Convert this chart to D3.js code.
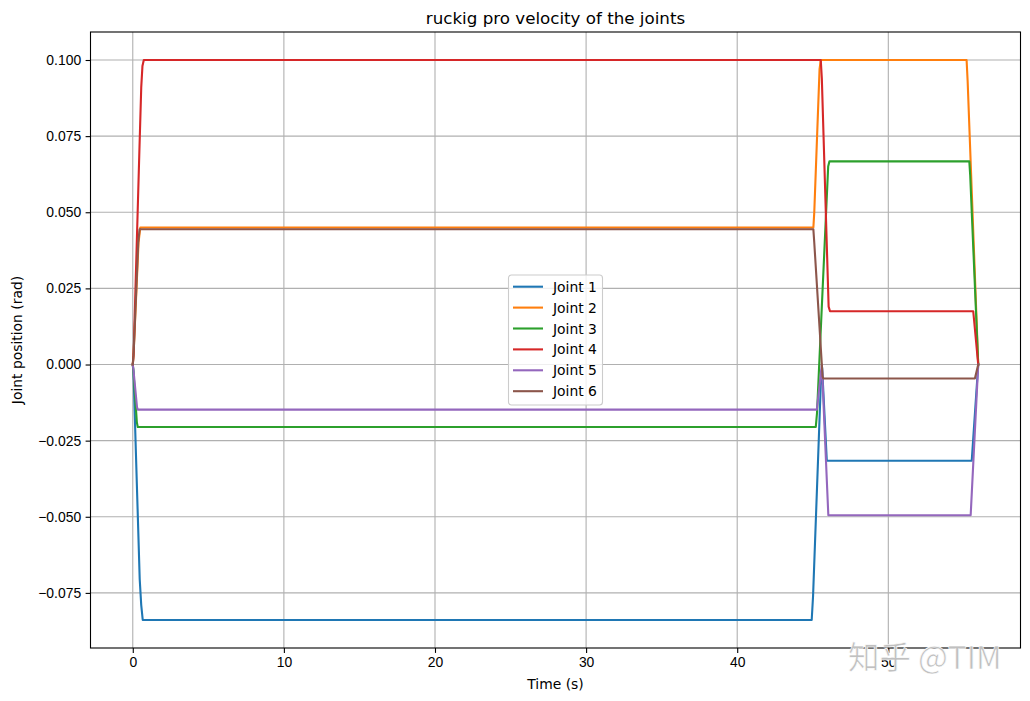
<!DOCTYPE html>
<html>
<head>
<meta charset="utf-8">
<script src="https://cdn.jsdelivr.net/npm/d3@7"></script>
<style>
  body { margin: 0; background: #fff; }
  svg { display: block; font-family: "DejaVu Sans", sans-serif; }
  .grid line { stroke: #b0b0b0; stroke-width: 1.1; }
  .axis path, .axis line { stroke: #000; stroke-width: 1.1; }
  .axis text { font-size: 13.9px; fill: #000; }
</style>
</head>
<body>
<svg width="1030" height="701"></svg>
<script>
var svg = d3.select("svg"),
    width = +svg.attr("width"),
    height = +svg.attr("height");

var margin = {left: 90.5, right: 9.5, top: 32, bottom: 53};

// [time (s), velocity (rad/s)]
var joint1 = [[0,0],[0.05,-0.003],[0.46,-0.0706],[0.56,-0.079],[0.66,-0.0839],
              [44.93,-0.0839],[45.02,-0.076],[45.55,-0.004],[45.62,-0.001],[45.93,-0.0316],
              [55.52,-0.0316],[55.95,0]];
var joint2 = [[0,0],[0.05,0.003],[0.38,0.04],[0.5,0.045],
              [45.04,0.045],[45.1,0.05],[45.45,0.097],[45.53,0.1],
              [55.18,0.1],[55.25,0.093],[55.95,0]];
var joint3 = [[0,0],[0.04,-0.002],[0.27,-0.019],[0.33,-0.0205],
              [45.2,-0.0205],[45.28,-0.016],[46.02,0.065],[46.1,0.0667],
              [55.36,0.0667],[55.42,0.062],[55.95,0]];
var joint4 = [[0,0],[0.06,0.004],[0.44,0.0706],[0.56,0.091],[0.64,0.098],[0.73,0.1],
              [45.53,0.1],[45.6,0.094],[46.05,0.019],[46.14,0.0175],
              [55.62,0.0175],[55.95,0]];
var joint5 = [[0,0],[0.04,-0.0015],[0.28,-0.014],[0.33,-0.0148],
              [45.27,-0.0148],[45.6,0],[46.03,-0.0495],
              [55.45,-0.0495],[55.95,0]];
var joint6 = [[0,0],[0.05,0.003],[0.36,0.04],[0.45,0.0444],
              [45.04,0.0444],[45.1,0.04],[45.65,-0.004],[45.7,-0.0046],
              [55.73,-0.0046],[55.95,0]];

var joints = [joint1, joint2, joint3, joint4, joint5, joint6];
var names = ["Joint 1", "Joint 2", "Joint 3", "Joint 4", "Joint 5", "Joint 6"];
var colors = ["#1f77b4", "#ff7f0e", "#2ca02c", "#d62728", "#9467bd", "#8c564b"];
var xTicks = [0, 10, 20, 30, 40, 50];
var yTicks = [-0.075, -0.05, -0.025, 0, 0.025, 0.05, 0.075, 0.1];

// matplotlib style 5% padding round the data
var all = d3.merge(joints);
var xe = d3.extent(all, d => d[0]),
    ye = d3.extent(all, d => d[1]);
var xp = (xe[1] - xe[0]) * 0.05,
    yp = (ye[1] - ye[0]) * 0.05;

var x = d3.scaleLinear()
    .domain([xe[0] - xp, xe[1] + xp])
    .range([margin.left, width - margin.right]);

var y = d3.scaleLinear()
    .domain([ye[0] - yp, ye[1] + yp])
    .range([height - margin.bottom, margin.top]);

var minus = s => s.replace("-", "\u2212");

// grid
svg.append("g").attr("class", "grid")
    .selectAll("line").data(xTicks).enter().append("line")
    .attr("x1", d => x(d)).attr("x2", d => x(d))
    .attr("y1", margin.top).attr("y2", height - margin.bottom);
svg.append("g").attr("class", "grid")
    .selectAll("line").data(yTicks).enter().append("line")
    .attr("y1", d => y(d)).attr("y2", d => y(d))
    .attr("x1", margin.left).attr("x2", width - margin.right);

// lines
var line = d3.line()
    .x(d => x(d[0]))
    .y(d => y(d[1]));

svg.append("g")
    .selectAll("path").data(joints).enter().append("path")
    .attr("d", line)
    .attr("fill", "none")
    .attr("stroke", (d, i) => colors[i])
    .attr("stroke-width", 2.1)
    .attr("stroke-linejoin", "round")
    .attr("stroke-linecap", "square");

// axes
svg.append("g").attr("class", "axis")
    .attr("transform", `translate(0,${height - margin.bottom})`)
    .call(d3.axisBottom(x).tickValues(xTicks).tickSize(4.9).tickPadding(4.5).tickFormat(d3.format("d")))
    .call(g => g.select(".domain").remove());
svg.append("g").attr("class", "axis")
    .attr("transform", `translate(${margin.left},0)`)
    .call(d3.axisLeft(y).tickValues(yTicks).tickSize(4.9).tickPadding(4.5).tickFormat(d => minus(d3.format(".3f")(d))))
    .call(g => g.select(".domain").remove());

// spines
svg.append("rect")
    .attr("x", margin.left).attr("y", margin.top)
    .attr("width", width - margin.left - margin.right)
    .attr("height", height - margin.top - margin.bottom)
    .attr("fill", "none").attr("stroke", "#000").attr("stroke-width", 1.1);

// titles
svg.append("text")
    .attr("x", (margin.left + width - margin.right) / 2).attr("y", 23.5)
    .attr("text-anchor", "middle").style("font-size", "16.7px")
    .text("ruckig pro velocity of the joints");
svg.append("text")
    .attr("x", (margin.left + width - margin.right) / 2).attr("y", 689)
    .attr("text-anchor", "middle").style("font-size", "13.9px")
    .text("Time (s)");
svg.append("text")
    .attr("transform", `translate(22,${(margin.top + height - margin.bottom) / 2}) rotate(-90)`)
    .attr("text-anchor", "middle").style("font-size", "13.9px")
    .text("Joint position (rad)");

// legend, centred in the axes
var lw = 94, lh = 130, rowH = 20.9;
var cx = (margin.left + width - margin.right) / 2,
    cy = (margin.top + height - margin.bottom) / 2;
var legend = svg.append("g")
    .attr("transform", `translate(${cx - lw / 2},${cy - lh / 2})`);

legend.append("rect")
    .attr("width", lw).attr("height", lh).attr("rx", 3)
    .attr("fill", "#fff").attr("fill-opacity", 0.8)
    .attr("stroke", "#cccccc").attr("stroke-width", 1.1);

var item = legend.selectAll(".item").data(names).enter().append("g")
    .attr("class", "item")
    .attr("transform", (d, i) => `translate(0,${11.7 + i * rowH})`);
item.append("line")
    .attr("x1", 4.5).attr("x2", 34.5)
    .attr("stroke", (d, i) => colors[i]).attr("stroke-width", 2.1);
item.append("text")
    .attr("x", 44.5).attr("y", 5)
    .style("font-size", "13.9px")
    .text(d => d);

// watermark
svg.append("text")
    .attr("x", 848).attr("y", 669)
    .style("font-family", "'Noto Sans CJK SC', sans-serif")
    .style("font-size", "31.5px")
    .attr("fill", "#c0c0c0")
    .attr("stroke", "#fff").attr("stroke-width", 0.6)
    .text("知乎 @TIM");
</script>
</body>
</html>
